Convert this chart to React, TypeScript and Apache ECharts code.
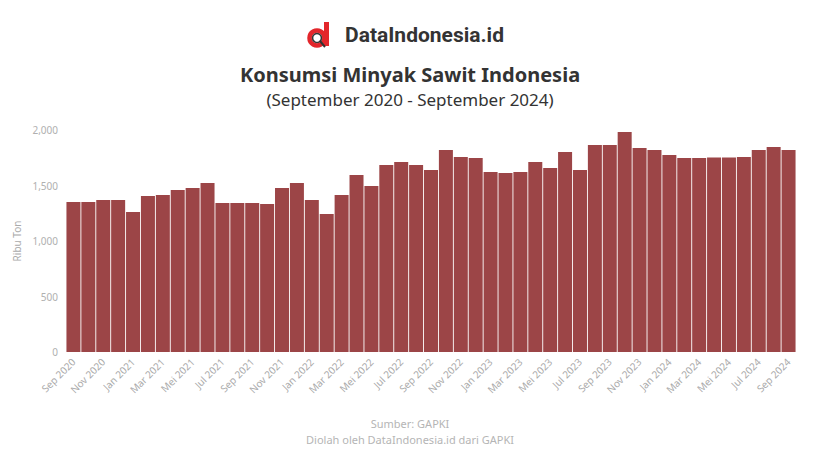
import React, { useEffect, useRef } from "react";
import * as echarts from "echarts";

const months = ["Jan", "Feb", "Mar", "Apr", "Mei", "Jun", "Jul", "Agu", "Sep", "Okt", "Nov", "Des"];
const categories: string[] = [];
for (let y = 2020, m = 8; y < 2024 || (y === 2024 && m <= 8); ) {
  categories.push(`${months[m]} ${y}`);
  m++;
  if (m === 12) { m = 0; y++; }
}

// Konsumsi (ribu ton)
const consumption = [
  1351, 1351, 1369, 1369, 1261, 1405, 1414, 1459, 1477, 1523,
  1342, 1342, 1342, 1333, 1477, 1523, 1369, 1243, 1414, 1595,
  1495, 1685, 1712, 1685, 1640, 1820, 1757, 1748, 1622, 1613,
  1622, 1712, 1658, 1802, 1640, 1865, 1865, 1982, 1838, 1820,
  1775, 1748, 1748, 1752, 1752, 1757, 1820, 1847, 1820,
];

const yTicks = { min: 0, max: 2000, interval: 500 };

const title = "Konsumsi Minyak Sawit Indonesia";
const subtitle = "(September 2020 - September 2024)";
const brand = "DataIndonesia.id";
const yName = "Ribu Ton";
const source1 = "Sumber: GAPKI";
const source2 = "Diolah oleh DataIndonesia.id dari GAPKI";

export default function App() {
  const ref = useRef<HTMLDivElement>(null);
  useEffect(() => {
    if (!ref.current) return;
    const chart = echarts.init(ref.current, null, { renderer: "svg" });
    chart.setOption({
      animation: false,
      backgroundColor: "#ffffff",
      grid: { left: 66, right: 24, top: 130, bottom: 108 },
      xAxis: {
        type: "category",
        data: categories,
        axisLine: { show: false },
        axisTick: { show: false },
        axisLabel: {
          interval: 1,
          rotate: 45,
          color: "#aaaaaa",
          fontSize: 10,
          fontFamily: "Noto Sans",
          margin: 8,
        },
      },
      yAxis: {
        type: "value",
        min: yTicks.min,
        max: yTicks.max,
        interval: yTicks.interval,
        name: yName,
        nameLocation: "middle",
        nameGap: 36,
        nameTextStyle: { color: "#aaaaaa", fontSize: 10, fontFamily: "Noto Sans" },
        axisLabel: { color: "#b0b0b0", fontSize: 10, fontFamily: "Noto Sans" },
        splitLine: { show: false },
        axisLine: { show: false },
      },
      series: [
        {
          type: "bar",
          data: consumption,
          barCategoryGap: "6%",
          itemStyle: { color: "#9c4547" },
        },
      ],
      graphic: [
        { type: "circle", shape: { cx: 317, cy: 38, r: 7.5 }, style: { fill: "none", stroke: "#e3262b", lineWidth: 4.5 } },
        { type: "rect", shape: { x: 324, y: 22, width: 5, height: 24 }, style: { fill: "#e3262b" } },
        { type: "circle", shape: { cx: 317, cy: 38, r: 4.5 }, style: { fill: "#ffffff", stroke: "#333333", lineWidth: 1.6 } },
        { type: "line", shape: { x1: 320, y1: 41, x2: 325, y2: 47 }, style: { stroke: "#333333", lineWidth: 2 } },
        {
          type: "text", x: 345, y: 35,
          style: { text: brand, font: "bold 21px Roboto", fill: "#333333", textVerticalAlign: "middle" },
        },
        {
          type: "text", x: 410, y: 74,
          style: { text: title, font: "bold 20px 'Noto Sans'", fill: "#333333", textAlign: "center", textVerticalAlign: "middle" },
        },
        {
          type: "text", x: 410, y: 99,
          style: { text: subtitle, font: "17px 'Noto Sans'", fill: "#333333", textAlign: "center", textVerticalAlign: "middle" },
        },
        {
          type: "text", x: 410, y: 423,
          style: { text: source1, font: "11px 'Noto Sans'", fill: "#b5b5b5", textAlign: "center", textVerticalAlign: "middle" },
        },
        {
          type: "text", x: 410, y: 439,
          style: { text: source2, font: "11px 'Noto Sans'", fill: "#b5b5b5", textAlign: "center", textVerticalAlign: "middle" },
        },
      ],
    });
    return () => chart.dispose();
  }, []);
  return <div ref={ref} style={{ position: "fixed", left: 0, top: 0, width: 820, height: 460 }} />;
}
